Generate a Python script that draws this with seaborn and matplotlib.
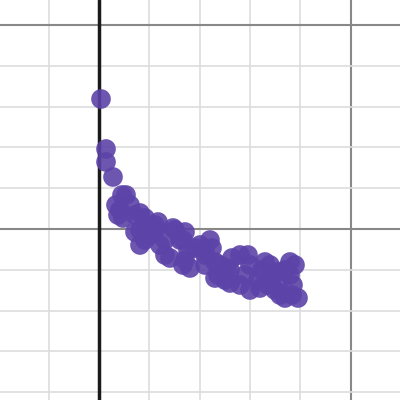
import matplotlib
matplotlib.use("Agg")
import matplotlib.pyplot as plt
import seaborn as sns
import numpy as np

px = [101,106,106,113,122,126,116,120,130,135,118,123,140,145,148,140,135,150,155,158,145,140,160,165,148,155,175,185,180,165,170,183,190,185,188,200,210,212,205,215,220,218,225,215,230,232,240,248,250,245,240,250,258,262,265,270,272,268,275,280,285,292,298,293,290,295,290,285,280,278,260,230,205,183,173,195,205,227]
py = [99,149,162,177,195,195,205,210,205,215,215,218,213,218,225,230,232,235,230,222,240,245,245,240,228,225,230,232,240,255,258,265,268,260,250,245,240,248,255,262,265,275,280,278,270,258,255,255,265,275,285,290,280,270,262,265,275,285,290,295,298,295,298,285,275,265,262,270,280,272,288,283,265,240,228,248,250,268]
x = [(v - 99) / 50.3 for v in px]
y = [(229 - v) / 40.8 for v in py]

sns.set_style("white")
fig = plt.figure(figsize=(4, 4), dpi=100)
ax = fig.add_axes([0, 0, 1, 1])
xmin, xmax = -99 / 50.3, 301 / 50.3
ymin, ymax = -171 / 40.8, 229 / 40.8
for gx in range(-1, 6):
    major = gx == 5
    ax.axvline(gx, color="#888888" if major else "#dddddd", lw=1.5 if major else 1.2, zorder=0)
for gy in range(-4, 6):
    major = gy in (0, 5)
    ax.axhline(gy, color="#888888" if major else "#dddddd", lw=1.5 if major else 1.2, zorder=0)
ax.axvline(0, color="#1a1a1a", lw=2.5, zorder=1)
sns.scatterplot(x=x, y=y, ax=ax, s=200, color="#5c43a8", alpha=0.9, edgecolor="none", zorder=3)
ax.set_xlim(xmin, xmax)
ax.set_ylim(ymin, ymax)
ax.set_xticks([]); ax.set_yticks([])
for s in ax.spines.values():
    s.set_visible(False)
fig.savefig("out.png", dpi=100)
